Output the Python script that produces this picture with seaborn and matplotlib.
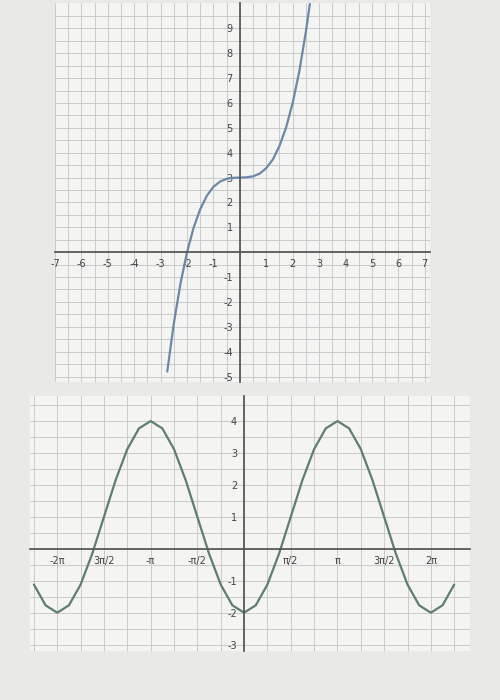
import numpy as np
import matplotlib.pyplot as plt
import seaborn as sns

sns.set_theme(style="white")
plt.rcParams["axes.unicode_minus"] = False

# top graph: values
cubic_x = [-2.75, -2.5, -2.25, -2, -1.75, -1.5, -1.25, -1, -0.75, -0.5, -0.25, 0,
           0.25, 0.5, 0.75, 1, 1.25, 1.5, 1.75, 2, 2.25, 2.5, 2.65]
cubic_y = [-4.8, -2.86, -1.27, 0, 0.99, 1.73, 2.27, 2.63, 2.84, 2.95, 2.99, 3,
           3.01, 3.05, 3.16, 3.38, 3.73, 4.27, 5.01, 6, 7.27, 8.86, 9.98]

# bottom graph: points every pi/8 (in units of pi)
wave_x_pi = [-2.25, -2.125, -2, -1.875, -1.75, -1.625, -1.5, -1.375, -1.25, -1.125, -1,
             -0.875, -0.75, -0.625, -0.5, -0.375, -0.25, -0.125, 0,
             0.125, 0.25, 0.375, 0.5, 0.625, 0.75, 0.875, 1,
             1.125, 1.25, 1.375, 1.5, 1.625, 1.75, 1.875, 2, 2.125, 2.25]
wave_y = [-1.12, -1.77, -2, -1.77, -1.12, -0.15, 1, 2.15, 3.12, 3.77, 4,
          3.77, 3.12, 2.15, 1, -0.15, -1.12, -1.77, -2,
          -1.77, -1.12, -0.15, 1, 2.15, 3.12, 3.77, 4,
          3.77, 3.12, 2.15, 1, -0.15, -1.12, -1.77, -2, -1.77, -1.12]
wave_ticks = ["-2π", "3π/2", "-π", "-π/2", "π/2", "π", "3π/2", "2π"]
wave_tick_pos = [-2, -1.5, -1, -0.5, 0.5, 1, 1.5, 2]

fig = plt.figure(figsize=(5, 7), dpi=100)
fig.patch.set_facecolor("#e9e9e7")

def paper(ax, xlim, ylim, xmaj, ymaj):
    ax.set_facecolor("#f4f4f2")
    ax.set_xlim(*xlim)
    ax.set_ylim(*ylim)
    for v in np.arange(np.ceil(xlim[0] / xmaj * 2) * xmaj / 2, xlim[1], xmaj / 2):
        ax.axvline(v, color="#c4c4c4", lw=0.6, zorder=0)
    for v in np.arange(np.ceil(ylim[0] * 2) / 2, ylim[1], ymaj / 2):
        ax.axhline(v, color="#c4c4c4", lw=0.6, zorder=0)
    for s in ["top", "right"]:
        ax.spines[s].set_visible(False)
    ax.spines["left"].set_position(("data", 0))
    ax.spines["bottom"].set_position(("data", 0))
    ax.spines["left"].set_color("#555555")
    ax.spines["bottom"].set_color("#555555")
    ax.tick_params(labelsize=7, colors="#444444", length=3, direction="inout")

ax1 = fig.add_axes([0.11, 0.455, 0.75, 0.54])
paper(ax1, (-7, 7.2), (-5.2, 10), 1, 1)
sns.lineplot(x=cubic_x, y=cubic_y, ax=ax1, color="#6b88a8", lw=1.6)
ax1.set_xticks([t for t in range(-7, 8) if t != 0])
ax1.set_yticks([t for t in range(-5, 10) if t != 0])

ax2 = fig.add_axes([0.06, 0.07, 0.88, 0.365])
paper(ax2, (-7.2, 7.6), (-3.2, 4.8), np.pi / 2, 1)
sns.lineplot(x=np.array(wave_x_pi) * np.pi, y=wave_y, ax=ax2, color="#5f7f6e", lw=1.6)
ax2.set_xticks(np.array(wave_tick_pos) * np.pi)
ax2.set_xticklabels(wave_ticks)
ax2.set_yticks([-3, -2, -1, 1, 2, 3, 4])

fig.savefig("out.png", facecolor=fig.get_facecolor())
